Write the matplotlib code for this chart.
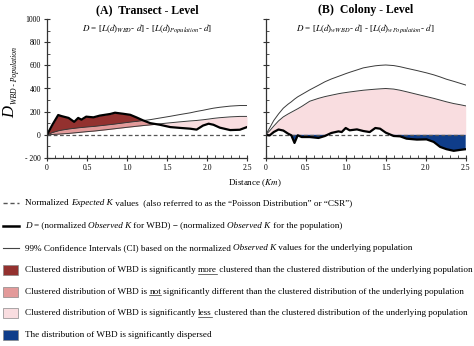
import numpy as np
import matplotlib
matplotlib.use('Agg')
import matplotlib.pyplot as plt
from matplotlib.lines import Line2D
from matplotlib.patches import Rectangle

plt.rcParams['font.family'] = ['Liberation Serif', 'DejaVu Serif']
plt.rcParams['mathtext.fontset'] = 'stix'

# Panel A : Transect - Level
dist_a = [0, 0.07, 0.14, 0.18, 0.27, 0.34, 0.39, 0.43, 0.49, 0.58, 0.66, 0.79, 0.85, 0.95, 1.04,
          1.12, 1.2, 1.29, 1.41, 1.54, 1.66, 1.79, 1.87, 1.95, 2.02, 2.08, 2.16, 2.29, 2.41, 2.5]
d_a = [0, 90, 171, 162, 146, 112, 146, 131, 157, 151, 166, 180, 191, 182, 173,
       150, 125, 101, 87, 67, 60, 53, 45, 80, 96, 87, 62, 41, 44, 67]
ci_up_a = [0, 20, 34, 40, 50, 56, 60, 63, 67, 72, 78, 88, 93, 102, 110,
           116, 123, 131, 145, 160, 175, 190, 202, 212, 222, 230, 238, 248, 253, 253]
ci_low_a = [0, 3, 6, 8, 12, 17, 20, 23, 27, 32, 38, 48, 53, 61, 68,
            74, 80, 86, 95, 104, 112, 120, 124, 130, 136, 142, 148, 155, 159, 159]

# Panel B : Colony - Level
dist_b = [0, 0.05, 0.1, 0.16, 0.22, 0.28, 0.32, 0.36, 0.4, 0.45, 0.55, 0.66, 0.74, 0.82, 0.91, 0.95,
          1.0, 1.05, 1.14, 1.22, 1.3, 1.37, 1.43, 1.5, 1.6, 1.68, 1.76, 1.89, 2.01, 2.1, 2.18,
          2.26, 2.35, 2.43, 2.5]
d_b = [0, -5, 24, 46, 37, 10, -4, -70, -4, -19, -19, -27, -10, 16, 30, 24,
       59, 39, 47, 33, 24, 59, 53, 19, -10, -13, -33, -41, -39, -61, -104,
       -124, -138, -130, -124]
ci_up_b = [0, 60, 123, 180, 230, 265, 285, 308, 328, 348, 388, 428, 458, 482, 505, 515,
           528, 540, 560, 578, 588, 596, 600, 603, 598, 588, 575, 555, 535, 518, 500,
           480, 462, 445, 430]
ci_low_b = [0, 35, 75, 120, 155, 180, 195, 210, 225, 245, 290, 315, 330, 342, 355, 360,
            365, 370, 378, 385, 390, 394, 397, 400, 395, 385, 372, 350, 330, 315, 300,
            285, 270, 260, 250]

titles = ['(A)  Transect - Level', '(B)  Colony - Level']
equations = [r'$D$ = [$L$($d$)$_{WBD}$- $d$] - [$L$($d$)$_{Population}$- $d$]',
             r'$D$ = [$L$($d$)$_{wWBD}$- $d$] - [$L$($d$)$_{wPopulation}$- $d$]']

dark_red = '#93312f'
mid_pink = '#e39a9a'
light_pink = '#f9dde0'
blue = '#0f3d8a'

fig = plt.figure(figsize=(4.74, 3.46), dpi=100)
W, H = 474.0, 346.0
ax_a = fig.add_axes([47 / W, 1 - 158 / H, 200 / W, 139 / H])
ax_b = fig.add_axes([265.7 / W, 1 - 158 / H, 200 / W, 139 / H])

panels = [(ax_a, dist_a, d_a, ci_up_a, ci_low_a), (ax_b, dist_b, d_b, ci_up_b, ci_low_b)]
for i, (ax, x, d, up, low) in enumerate(panels):
    x = np.array(x)
    d = np.array(d, dtype=float)
    up = np.array(up, dtype=float)
    low = np.array(low, dtype=float)

    # zones de remplissage
    ax.fill_between(x, up, d, where=d >= up, interpolate=True, color=dark_red, lw=0)
    ax.fill_between(x, low, np.minimum(d, up), where=d >= low, interpolate=True, color=mid_pink, lw=0)
    ax.fill_between(x, np.maximum(d, 0), low, where=d < low, interpolate=True, color=light_pink, lw=0)
    ax.fill_between(x, d, 0, where=d < 0, interpolate=True, color=blue, lw=0)

    ax.axhline(0, color='#555555', lw=0.9, ls=(0, (3, 2)))
    ax.plot(x, up, color='#3a3a3a', lw=0.7)
    ax.plot(x, low, color='#3a3a3a', lw=0.7)
    ax.plot(x, d, color='black', lw=1.6)

    ax.set_xlim(0, 2.5)
    ax.set_ylim(-200, 1000)
    for s in ['top', 'right']:
        ax.spines[s].set_visible(False)
    for s in ['left', 'bottom']:
        ax.spines[s].set_linewidth(0.9)
        ax.spines[s].set_color('#333333')
    ax.set_xticks([0, 0.5, 1.0, 1.5, 2.0, 2.5])
    ax.set_xticklabels(['0', '0.5', '1.0', '1.5', '2.0', '2.5'])
    ax.set_xticks(np.arange(0, 2.51, 0.1), minor=True)
    ax.set_yticks(range(-200, 1001, 200))
    ax.set_yticks(range(-200, 1001, 100), minor=True)
    if i == 0:
        ax.set_yticklabels(['- 200', '0', '200', '400', '600', '800', '1000'])
    else:
        ax.set_yticklabels([])
    ax.tick_params(which='major', direction='inout', length=5, width=0.8, labelsize=5.5,
                   color='#333333', pad=2)
    ax.tick_params(which='minor', direction='in', length=2.5, width=0.6, color='#333333')
    ax.patch.set_alpha(0)

    ax.set_title(titles[i], fontsize=8.5, fontweight='bold', pad=4)
    ax.text(0.5, 0.928, equations[i], transform=ax.transAxes, ha='center', va='center', fontsize=6.5)

# titre de l'axe y : grand D + indice en petit
fig.text(10.5 / W, 1 - 112 / H, 'D', style='italic', rotation=90, ha='center', va='center', fontsize=12)
fig.text(15 / W, 1 - 76 / H, 'WBD - Population', style='italic', rotation=90, ha='center',
         va='center', fontsize=5.5)
fig.text(255 / W, 1 - 183 / H, r'Distance ($Km$)', ha='center', va='center', fontsize=6.5)

# Légende manuelle en bas de la figure
renderer = fig.canvas.get_renderer()


def texte_riche(x_px, y_px, morceaux, taille=6.55):
    """Ecrit une suite de morceaux (texte, italique, souligné) les uns après les autres."""
    for txt, ital, soul in morceaux:
        t = fig.text(x_px / W, 1 - y_px / H, txt, fontsize=taille, va='center',
                     style='italic' if ital else 'normal')
        bb = t.get_window_extent(renderer)
        if soul:
            yl = bb.y0 + 0.5
            fig.add_artist(Line2D([bb.x0 / W, bb.x1 / W], [yl / H, yl / H], color='#333333', lw=0.5))
        x_px += bb.width


lignes = [
    ((0, (3, 2)), 1.0, '#555555', [('Normalized ', 0, 0), ('Expected K', 1, 0),
                                  (' values  (also referred to as the \u201cPoisson Distribution\u201d or \u201cCSR\u201d)', 0, 0)]),
    ('-', 1.8, 'black', [('D ', 1, 0), ('= (normalized ', 0, 0), ('Observed K', 1, 0), (' for WBD) \u2212 (normalized ', 0, 0),
                         ('Observed K', 1, 0), (' for the population)', 0, 0)]),
    ('-', 0.8, '#444444', [('99% Confidence Intervals (CI) based on the normalized ', 0, 0), ('Observed K', 1, 0),
                           (' values for the underlying population', 0, 0)]),
]
y_lignes = [203, 225.5, 248]
for (ls, lw, col, morceaux), yp in zip(lignes, y_lignes):
    fig.add_artist(Line2D([3 / W, 19 / W], [1 - yp / H, 1 - yp / H], color=col, lw=lw, ls=ls))
    texte_riche(25, yp, morceaux)

boites = [
    (dark_red, [('Clustered distribution of WBD is significantly ', 0, 0), ('more', 0, 1),
                (' clustered than the clustered distribution of the underlying population', 0, 0)]),
    (mid_pink, [('Clustered distribution of WBD is ', 0, 0), ('not', 0, 1),
                (' significantly different than the clustered distribution of the underlying population', 0, 0)]),
    (light_pink, [('Clustered distribution of WBD is significantly ', 0, 0), ('less', 0, 1),
                  (' clustered than the clustered distribution of the underlying population', 0, 0)]),
    (blue, [('The distribution of WBD is significantly dispersed', 0, 0)]),
]
y_boites = [270, 291.7, 313.3, 335]
for (col, morceaux), yp in zip(boites, y_boites):
    fig.add_artist(Rectangle((3 / W, 1 - (yp + 5) / H), 15 / W, 10 / H, facecolor=col,
                             edgecolor='#888888', lw=0.5))
    texte_riche(25, yp, morceaux)

fig.savefig('out.png', dpi=100)
